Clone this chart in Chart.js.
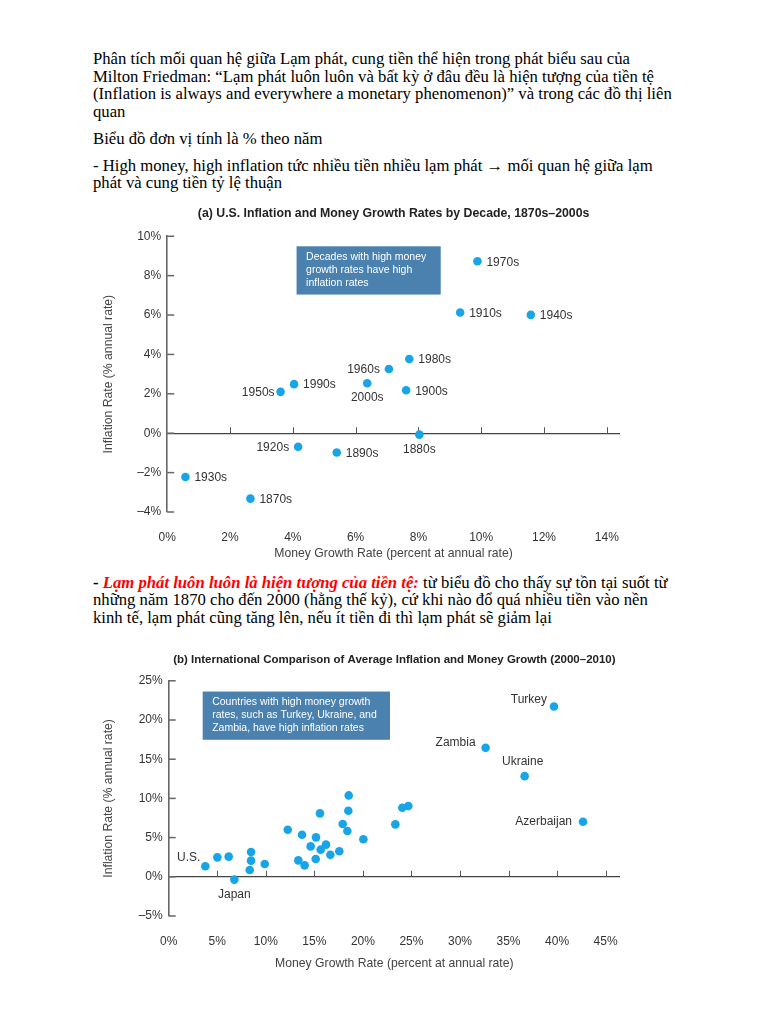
<!DOCTYPE html>
<html><head><meta charset="utf-8">
<script src="https://cdn.jsdelivr.net/npm/chart.js@4.4.0/dist/chart.umd.min.js"></script>
<style>
html,body{margin:0;padding:0;background:#fff;width:768px;height:1024px;overflow:hidden;}
.p{position:absolute;left:93px;font-family:"Liberation Serif","Times New Roman",serif;font-size:16.7px;line-height:17.5px;color:#000;white-space:nowrap;}
.red{color:#f00;font-weight:bold;font-style:italic;}
.wrap{position:absolute;}
</style></head><body>
<div class="p" style="top:50px">Phân tích mối quan hệ giữa Lạm phát, cung tiền thể hiện trong phát biểu sau của<br>Milton Friedman: “Lạm phát luôn luôn và bất kỳ ở đâu đều là hiện tượng của tiền tệ<br>(Inflation is always and everywhere a monetary phenomenon)” và trong các đồ thị liên<br>quan</div>
<div class="p" style="top:130.3px">Biểu đồ đơn vị tính là % theo năm</div>
<div class="p" style="top:156.6px">- High money, high inflation tức nhiều tiền nhiều lạm phát → mối quan hệ giữa lạm<br>phát và cung tiền tỷ lệ thuận</div>
<div class="p" style="top:573.9px"><b>- </b><span class="red">Lạm phát luôn luôn là hiện tượng của tiền tệ:</span> từ biểu đồ cho thấy sự tồn tại suốt từ<br>những năm 1870 cho đến 2000 (hằng thế kỷ), cứ khi nào đổ quá nhiều tiền vào nền<br>kinh tế, lạm phát cũng tăng lên, nếu ít tiền đi thì lạm phát sẽ giảm lại</div>

<div class="wrap" style="left:100px;top:195px;"><canvas id="ca" width="540" height="375"></canvas></div>
<div class="wrap" style="left:100px;top:640px;"><canvas id="cb" width="540" height="340"></canvas></div>

<script>
// ---------- Chart (a) data ----------
const decadeLabels = ['1870s','1880s','1890s','1900s','1910s','1920s','1930s','1940s','1950s','1960s','1970s','1980s','1990s','2000s'];
const decadeMoneyGrowth = [2.65, 8.03, 5.40, 7.61, 9.33, 4.17, 0.58, 11.58, 3.61, 7.06, 9.88, 7.71, 4.04, 6.37];
const decadeInflation   = [-3.32, -0.07, -0.98, 2.18, 6.13, -0.69, -2.22, 6.01, 2.10, 3.26, 8.73, 3.77, 2.49, 2.54];
const aXTicks = [0, 2, 4, 6, 8, 10, 12, 14];
const aYTicks = [-4, -2, 0, 2, 4, 6, 8, 10];
const aTitle = '(a) U.S. Inflation and Money Growth Rates by Decade, 1870s–2000s';
const aNote = ['Decades with high money', 'growth rates have high', 'inflation rates'];

// ---------- Chart (b) data ----------
const countryLabels = ['Turkey','Zambia','Ukraine','Azerbaijan','U.S.','Japan',
  '','','','','','','','','','','','','','','','','','','','','','','','','',''];
const countryMoneyGrowth = [39.68, 32.64, 36.66, 42.67, 5.01, 6.76,
  3.77, 6.18, 8.48, 8.48, 8.34, 9.89, 12.26, 13.73, 13.35, 14.0, 14.62, 15.17, 15.58, 15.65,
  16.2, 15.14, 16.65, 17.57, 17.92, 18.40, 18.50, 18.54, 20.05, 23.34, 24.06, 24.68];
const countryInflation = [21.72, 16.45, 12.84, 7.03, 2.48, -0.36,
  1.34, 2.57, 3.16, 2.06, 0.87, 1.63, 6.01, 5.37, 2.10, 1.46, 3.88, 5.03, 8.09, 3.46,
  4.1, 2.27, 2.82, 3.25, 6.73, 5.84, 8.43, 10.38, 4.78, 6.69, 8.81, 9.02];
const bXTicks = [0, 5, 10, 15, 20, 25, 30, 35, 40, 45];
const bYTicks = [-5, 0, 5, 10, 15, 20, 25];
const bTitle = '(b) International Comparison of Average Inflation and Money Growth (2000–2010)';
const bNote = ['Countries with high money growth', 'rates, such as Turkey, Ukraine, and', 'Zambia, have high inflation rates'];

const xAxisTitle = 'Money Growth Rate (percent at annual rate)';
const yAxisTitle = 'Inflation Rate (% annual rate)';

// ---------- styling / placement ----------
const FONT = '"Liberation Sans", Arial, Helvetica, sans-serif';
const DOT = '#17a5e8';
const BOX = '#4a81ae';
const aPlace = {
  '1960s': {align:'right', dx:-9, dy:1},
  '1950s': {align:'right', dx:-6, dy:1},
  '1920s': {align:'right', dx:-9, dy:1},
  '2000s': {align:'center', dx:0, dy:14},
  '1880s': {align:'center', dx:0, dy:15}
};
const bPlace = {
  'Turkey': {align:'right', dx:-7, dy:-7},
  'Zambia': {align:'right', dx:-10, dy:-5},
  'Ukraine': {align:'center', dx:-2, dy:-14},
  'Azerbaijan': {align:'right', dx:-11, dy:0},
  'U.S.': {align:'right', dx:-17, dy:0},
  'Japan': {align:'center', dx:0, dy:15}
};
const defaultPlace = {align:'left', dx:9, dy:1};

function pct(v){ return v < 0 ? '–' + Math.abs(v) + '%' : v + '%'; }

const decor = {
  id: 'decor',
  beforeDatasetsDraw(chart, args, o) {
    const {ctx, chartArea: ca, scales: {x, y}} = chart;
    ctx.save();
    ctx.strokeStyle = '#666'; ctx.lineWidth = 1.5;
    y.ticks.forEach(t => {
      const py = y.getPixelForValue(t.value);
      ctx.beginPath(); ctx.moveTo(ca.left, py); ctx.lineTo(ca.left + 7, py); ctx.stroke();
    });
    const y0 = y.getPixelForValue(0);
    ctx.strokeStyle = '#555'; ctx.lineWidth = 1;
    x.ticks.forEach(t => {
      if (t.value === 0) return;
      const px = Math.round(x.getPixelForValue(t.value)) + 0.5;
      ctx.beginPath(); ctx.moveTo(px, y0); ctx.lineTo(px, y0 - 6); ctx.stroke();
    });
    const b = o.box;
    const l = x.getPixelForValue(b.x0), r = x.getPixelForValue(b.x1);
    const tp = y.getPixelForValue(b.y1), bt = y.getPixelForValue(b.y0);
    ctx.fillStyle = BOX; ctx.fillRect(l, tp, r - l, bt - tp);
    ctx.fillStyle = '#fff'; ctx.font = '10.5px ' + FONT;
    ctx.textBaseline = 'middle'; ctx.textAlign = 'left';
    b.lines.forEach((s, i) => ctx.fillText(s, l + 9.5, tp + 11 + i * 12.7));
    ctx.restore();
  },
  afterDatasetsDraw(chart, args, o) {
    const {ctx} = chart;
    const meta = chart.getDatasetMeta(0);
    ctx.save();
    ctx.fillStyle = '#333'; ctx.font = '12px ' + FONT; ctx.textBaseline = 'middle';
    meta.data.forEach((pt, i) => {
      const name = o.names[i];
      if (!name) return;
      const p = o.place[name] || defaultPlace;
      ctx.textAlign = p.align;
      ctx.fillText(name, pt.x + p.dx, pt.y + p.dy);
    });
    ctx.restore();
  }
};

function makeChart(id, xs, ys, names, xTicks, yTicks, xMax, yMin, yMax, title, titleSize, note, place, yAxisW, xAxisH, titlePad) {
  const pts = xs.map((v, i) => ({x: v, y: ys[i]}));
  return new Chart(document.getElementById(id), {
    type: 'scatter',
    data: { datasets: [{ data: pts, backgroundColor: DOT, borderWidth: 0, pointRadius: 4.3, pointHoverRadius: 4.3 }] },
    options: {
      responsive: false, animation: false, devicePixelRatio: 1,
      layout: { padding: { left: 0, right: 20, top: 0, bottom: 0 } },
      plugins: {
        legend: { display: false }, tooltip: { enabled: false },
        title: { display: true, text: title, fullSize: false, color: '#222',
                 font: { family: FONT, size: titleSize, weight: 'bold' }, padding: titlePad },
        decor: { names: names, place: place, box: note }
      },
      scales: {
        x: {
          type: 'linear', min: 0, max: xMax,
          afterBuildTicks: s => { s.ticks = xTicks.map(v => ({value: v})); },
          afterFit: s => { s.height = xAxisH; },
          grid: { display: false }, border: { display: false },
          ticks: { callback: pct, color: '#333', padding: 10, font: { family: FONT, size: 12 } },
          title: { display: true, text: xAxisTitle, color: '#444', font: { family: FONT, size: 12.2 }, padding: { top: 8, bottom: 9 } }
        },
        y: {
          type: 'linear', min: yMin, max: yMax,
          afterBuildTicks: s => { s.ticks = yTicks.map(v => ({value: v})); },
          afterFit: s => { s.width = yAxisW; },
          grid: { drawTicks: false, lineWidth: 1.2, color: c => (c.tick && c.tick.value === 0) ? '#444' : 'rgba(0,0,0,0)' },
          border: { display: true, color: '#666', width: 1.6 },
          ticks: { callback: pct, color: '#333', padding: 6, font: { family: FONT, size: 12 } },
          title: { display: true, text: yAxisTitle, color: '#444', font: { family: FONT, size: 12.2 }, padding: { top: 1.5, bottom: 0 } }
        }
      }
    },
    plugins: [decor]
  });
}

makeChart('ca', decadeMoneyGrowth, decadeInflation, decadeLabels, aXTicks, aYTicks, 14.42, -4, 10,
  aTitle, 12.3, {x0: 4.12, x1: 8.71, y0: 7.04, y1: 9.49, lines: aNote}, aPlace, 67.2, 58, {top: 11.5, bottom: 15});
makeChart('cb', countryMoneyGrowth, countryInflation, countryLabels, bXTicks, bYTicks, 46.48, -5, 25,
  bTitle, 11.5, {x0: 3.5, x1: 22.79, y0: 17.48, y1: 23.63, lines: bNote}, bPlace, 68.7, 64, {top: 13, bottom: 14});
</script>
</body></html>
